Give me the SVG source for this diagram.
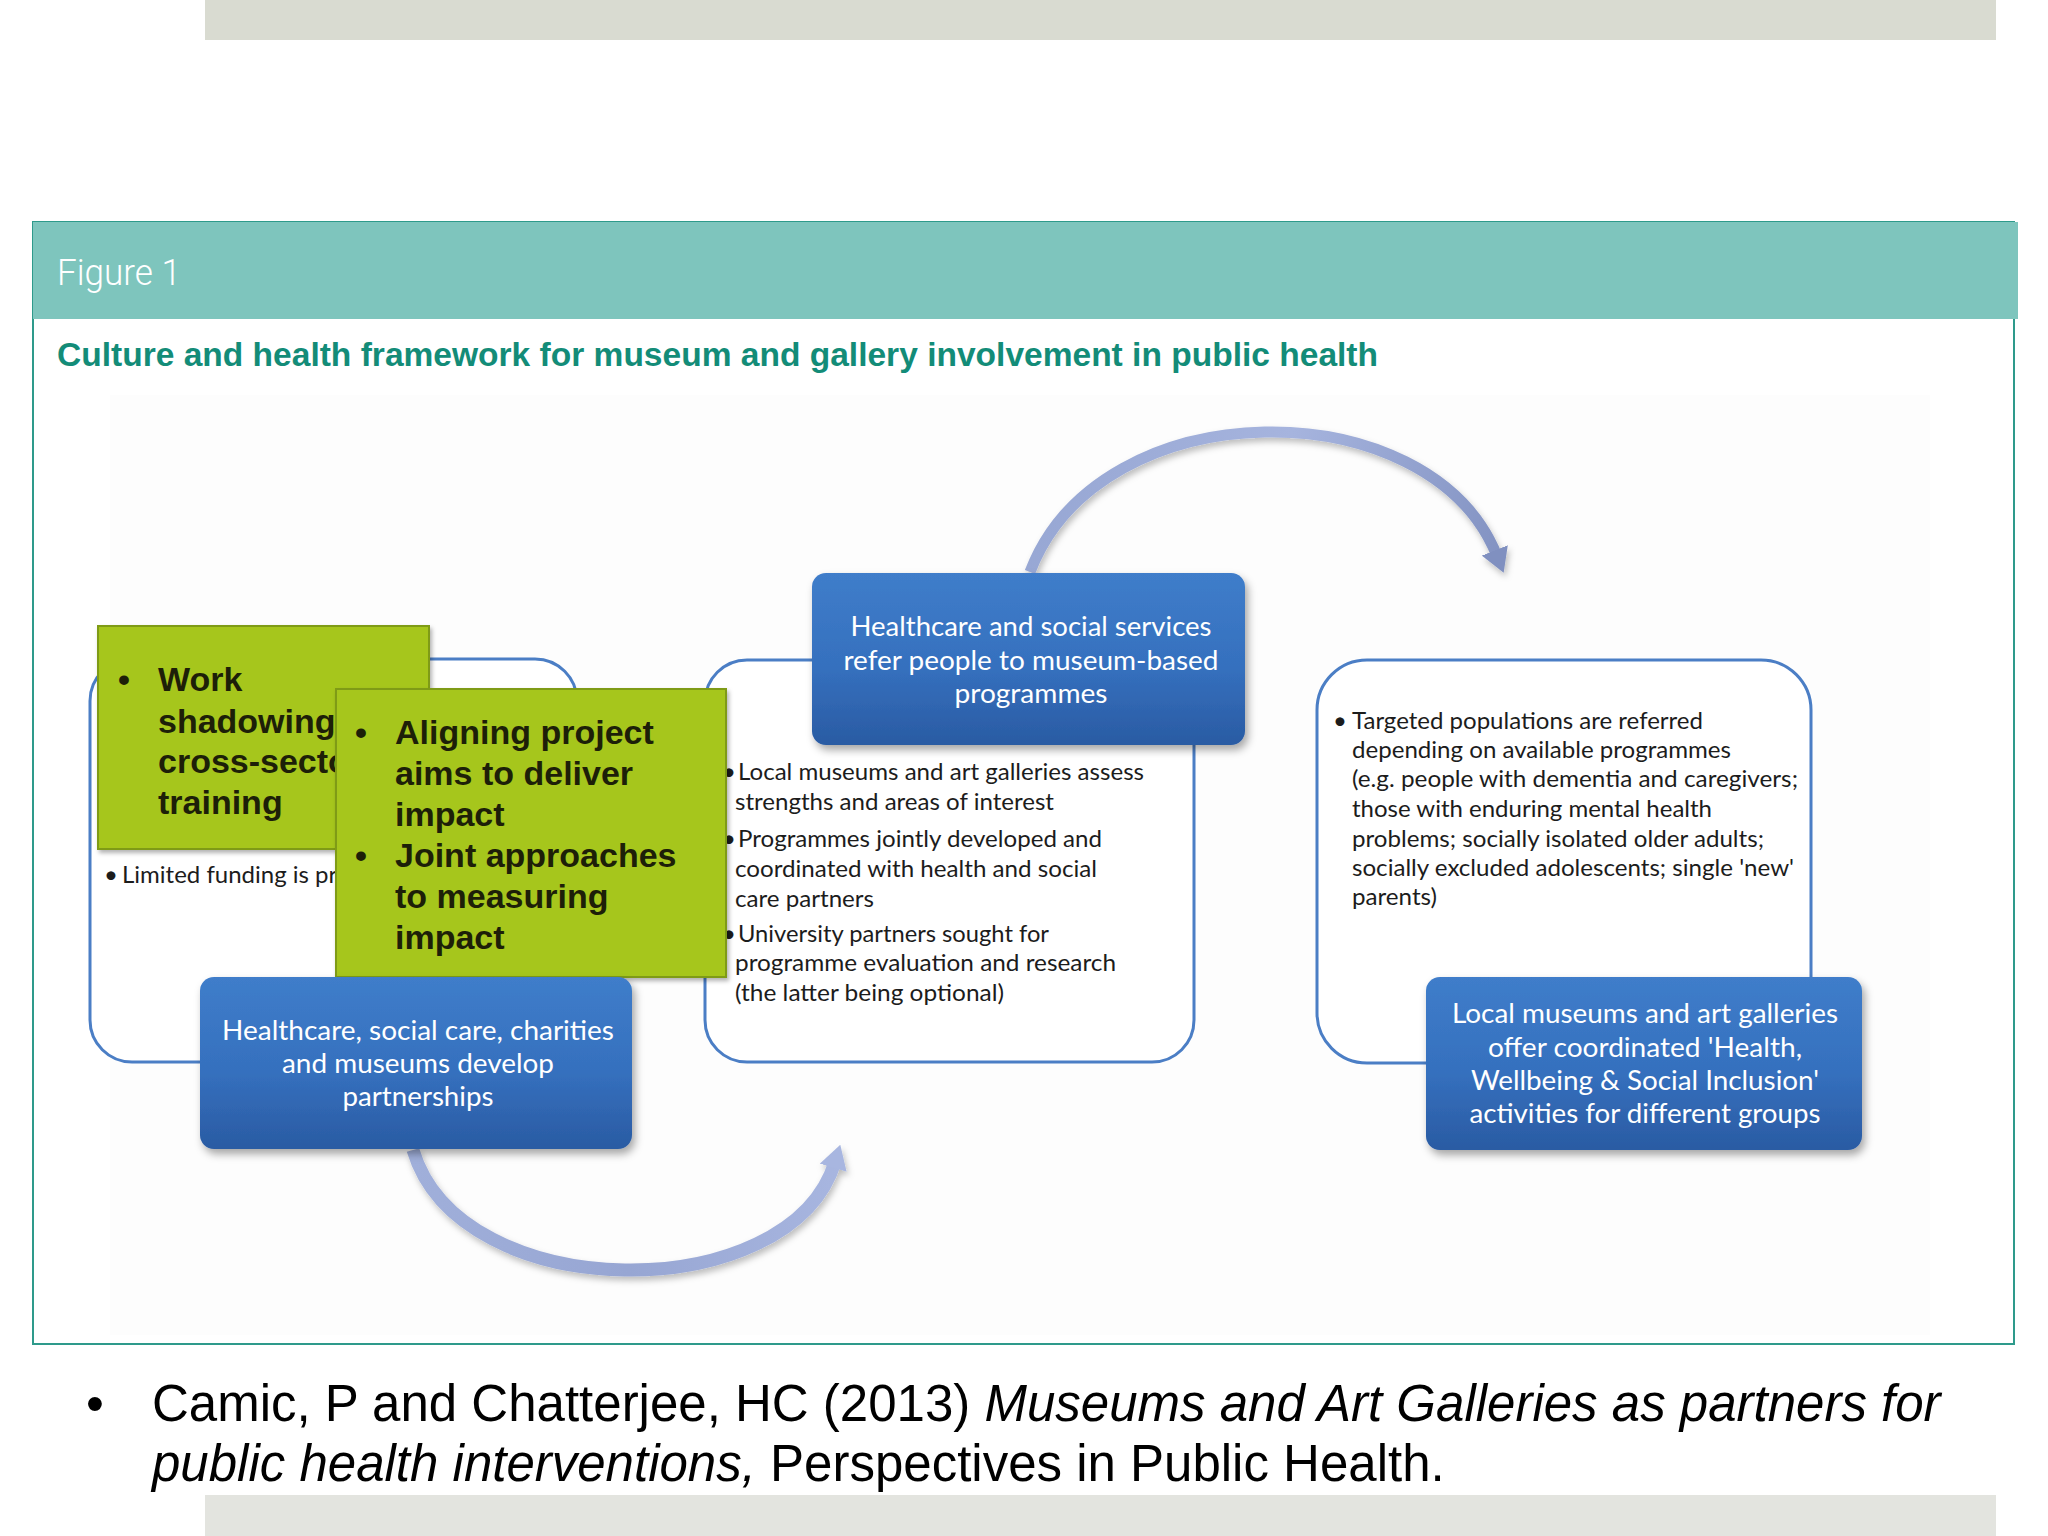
<svg xmlns="http://www.w3.org/2000/svg" width="2048" height="1536" viewBox="0 0 2048 1536">
<defs>
<style>
.container{fill:#ffffff;stroke:#4B7EC5;stroke-width:3}
.blue{fill:url(#blueGrad);filter:url(#shadow)}
.green{fill:#A6C61D;stroke:#7F9B14;stroke-width:2;filter:url(#shadowG)}
.btxt{font-family:Lato,"Open Sans",sans-serif;font-size:27px;fill:#ffffff;text-anchor:middle}
.body{font-family:Lato,"Open Sans",sans-serif;font-size:24px;fill:#1c1c1c}
.gtxt{font-family:"Liberation Sans",Arial,sans-serif;font-weight:bold;font-size:34px;fill:#1d1f08}
.arrow{fill:none;stroke-linecap:butt}
</style>
<linearGradient id="blueGrad" x1="0" y1="0" x2="0" y2="1">
<stop offset="0" stop-color="#3F7DCA"/>
<stop offset="0.55" stop-color="#3570BE"/>
<stop offset="1" stop-color="#2A5BA3"/>
</linearGradient>
<linearGradient id="arrowTop" gradientUnits="userSpaceOnUse" x1="1030" y1="420" x2="1510" y2="580">
<stop offset="0" stop-color="#95A5D2"/>
<stop offset="0.5" stop-color="#A6B4DE"/>
<stop offset="1" stop-color="#8090C0"/>
</linearGradient>
<linearGradient id="arrowBot" gradientUnits="userSpaceOnUse" x1="413" y1="1150" x2="845" y2="1150">
<stop offset="0" stop-color="#A0AFDA"/>
<stop offset="0.5" stop-color="#97A6D3"/>
<stop offset="1" stop-color="#A8B6E0"/>
</linearGradient>
<filter id="shadow" x="-10%" y="-10%" width="125%" height="130%">
<feDropShadow dx="3" dy="5" stdDeviation="4" flood-color="#000" flood-opacity="0.35"/>
</filter>
<filter id="shadowG" x="-10%" y="-10%" width="125%" height="130%">
<feDropShadow dx="2" dy="3" stdDeviation="2" flood-color="#000" flood-opacity="0.3"/>
</filter>
<filter id="shadowA" x="-10%" y="-20%" width="125%" height="150%">
<feDropShadow dx="2" dy="4" stdDeviation="3" flood-color="#000" flood-opacity="0.25"/>
</filter>
<marker id="headTop" viewBox="0 0 24 28" refX="6" refY="14" markerWidth="24" markerHeight="28" markerUnits="userSpaceOnUse" orient="auto">
<path d="M0,0 L24,14 L0,28 z" fill="#8090C0"/>
</marker>
<marker id="headBot" viewBox="0 0 24 28" refX="6" refY="14" markerWidth="24" markerHeight="28" markerUnits="userSpaceOnUse" orient="auto">
<path d="M0,0 L24,14 L0,28 z" fill="#A8B6E0"/>
</marker>
</defs>

<rect x="0" y="0" width="2048" height="1536" fill="#ffffff"/>
<rect id="topbar" x="205" y="0" width="1791" height="40" fill="#D9DBD1"/>
<rect id="bottombar" x="205" y="1495" width="1791" height="41" fill="#E3E4DF"/>

<g id="frame">
<rect x="33" y="222" width="1981" height="1122" fill="#ffffff" stroke="#2E9A8B" stroke-width="2"/>
<rect x="110" y="395" width="1820" height="940" fill="#FDFDFD"/>
<rect x="33" y="222" width="1985" height="97" fill="#7EC5BD"/>
<text x="57" y="285" font-family="Roboto,'Liberation Sans',sans-serif" font-weight="300" font-size="37" fill="#ffffff" textLength="124" lengthAdjust="spacingAndGlyphs">Figure 1</text>
<text x="57" y="366" font-family="'Liberation Sans',Arial,sans-serif" font-weight="bold" font-size="34" fill="#138C78" textLength="1321" lengthAdjust="spacingAndGlyphs">Culture and health framework for museum and gallery involvement in public health</text>
</g>

<g id="containers">
<g id="left-container">
<rect class="container" x="90" y="659" width="487" height="403" rx="42"/>
<text class="body" x="104" y="883">•</text>
<text class="body" x="122" y="883">Limited funding is pr</text>
</g>
<g id="middle-container">
<rect class="container" x="705" y="660" width="489" height="402" rx="42"/>
<text class="body" x="722" y="780">•</text>
<text class="body" x="722" y="847">•</text>
<text class="body" x="722" y="942">•</text>
<text class="body" x="738" y="780" textLength="406" lengthAdjust="spacingAndGlyphs">Local museums and art galleries assess</text>
<text class="body" x="735" y="810" textLength="319" lengthAdjust="spacingAndGlyphs">strengths and areas of interest</text>
<text class="body" x="738" y="847" textLength="364" lengthAdjust="spacingAndGlyphs">Programmes jointly developed and</text>
<text class="body" x="735" y="877" textLength="362" lengthAdjust="spacingAndGlyphs">coordinated with health and social</text>
<text class="body" x="735" y="907" textLength="139" lengthAdjust="spacingAndGlyphs">care partners</text>
<text class="body" x="738" y="942" textLength="311" lengthAdjust="spacingAndGlyphs">University partners sought for</text>
<text class="body" x="735" y="971" textLength="381" lengthAdjust="spacingAndGlyphs">programme evaluation and research</text>
<text class="body" x="735" y="1001" textLength="269" lengthAdjust="spacingAndGlyphs">(the latter being optional)</text>
</g>
<g id="right-container">
<rect class="container" x="1317" y="660" width="494" height="403" rx="50"/>
<text class="body" x="1333" y="729">•</text>
<text class="body" x="1352" y="729" textLength="351" lengthAdjust="spacingAndGlyphs">Targeted populations are referred</text>
<text class="body" x="1352" y="758" textLength="379" lengthAdjust="spacingAndGlyphs">depending on available programmes</text>
<text class="body" x="1352" y="787" textLength="446" lengthAdjust="spacingAndGlyphs">(e.g. people with dementia and caregivers;</text>
<text class="body" x="1352" y="817" textLength="360" lengthAdjust="spacingAndGlyphs">those with enduring mental health</text>
<text class="body" x="1352" y="847" textLength="412" lengthAdjust="spacingAndGlyphs">problems; socially isolated older adults;</text>
<text class="body" x="1352" y="876" textLength="442" lengthAdjust="spacingAndGlyphs">socially excluded adolescents; single 'new'</text>
<text class="body" x="1352" y="905" textLength="85" lengthAdjust="spacingAndGlyphs">parents)</text>
</g>
</g>

<g id="connectors">
<path class="arrow" d="M1030,572 C1100,388 1430,388 1497,556" stroke="url(#arrowTop)" stroke-width="11" marker-end="url(#headTop)" filter="url(#shadowA)"/>
<path class="arrow" d="M413,1150 C460,1308 790,1308 835,1162" stroke="url(#arrowBot)" stroke-width="13" marker-end="url(#headBot)" filter="url(#shadowA)"/>
</g>

<g id="green-training">
<rect class="green" x="98" y="626" width="331" height="223"/>
<text class="gtxt" x="118" y="691">•</text>
<text class="gtxt" x="158" y="691">Work</text>
<text class="gtxt" x="158" y="733">shadowing</text>
<text class="gtxt" x="158" y="773">cross-secto</text>
<text class="gtxt" x="158" y="814">training</text>
</g>

<g id="green-impact">
<rect class="green" x="336" y="689" width="390" height="288"/>
<text class="gtxt" x="355" y="744">•</text>
<text class="gtxt" x="395" y="744">Aligning project</text>
<text class="gtxt" x="395" y="785">aims to deliver</text>
<text class="gtxt" x="395" y="826">impact</text>
<text class="gtxt" x="355" y="867">•</text>
<text class="gtxt" x="395" y="867">Joint approaches</text>
<text class="gtxt" x="395" y="908">to measuring</text>
<text class="gtxt" x="395" y="949">impact</text>
</g>

<g id="node-referral">
<rect class="blue" x="812" y="573" width="433" height="172" rx="14"/>
<text class="btxt" x="1031" y="636" textLength="361" lengthAdjust="spacingAndGlyphs">Healthcare and social services</text>
<text class="btxt" x="1031" y="670" textLength="375" lengthAdjust="spacingAndGlyphs">refer people to museum-based</text>
<text class="btxt" x="1031" y="703" textLength="153" lengthAdjust="spacingAndGlyphs">programmes</text>
</g>

<g id="node-partnerships">
<rect class="blue" x="200" y="977" width="432" height="172" rx="14"/>
<text class="btxt" x="418" y="1040" textLength="392" lengthAdjust="spacingAndGlyphs">Healthcare, social care, charities</text>
<text class="btxt" x="418" y="1073" textLength="272" lengthAdjust="spacingAndGlyphs">and museums develop</text>
<text class="btxt" x="418" y="1106" textLength="151" lengthAdjust="spacingAndGlyphs">partnerships</text>
</g>

<g id="node-activities">
<rect class="blue" x="1426" y="977" width="436" height="173" rx="14"/>
<text class="btxt" x="1645" y="1023" textLength="386" lengthAdjust="spacingAndGlyphs">Local museums and art galleries</text>
<text class="btxt" x="1645" y="1057" textLength="314" lengthAdjust="spacingAndGlyphs">offer coordinated 'Health,</text>
<text class="btxt" x="1645" y="1090" textLength="348" lengthAdjust="spacingAndGlyphs">Wellbeing &amp; Social Inclusion'</text>
<text class="btxt" x="1645" y="1123" textLength="351" lengthAdjust="spacingAndGlyphs">activities for different groups</text>
</g>

<g id="citation" font-family="'Liberation Sans',Arial,sans-serif" font-size="51" fill="#000000">
<text x="86" y="1421">•</text>
<text x="152" y="1421">Camic, P and Chatterjee, HC (2013) <tspan font-style="italic">Museums and Art Galleries as partners for</tspan></text>
<text x="152" y="1481"><tspan font-style="italic">public health interventions,</tspan> Perspectives in Public Health.</text>
</g>
</svg>
